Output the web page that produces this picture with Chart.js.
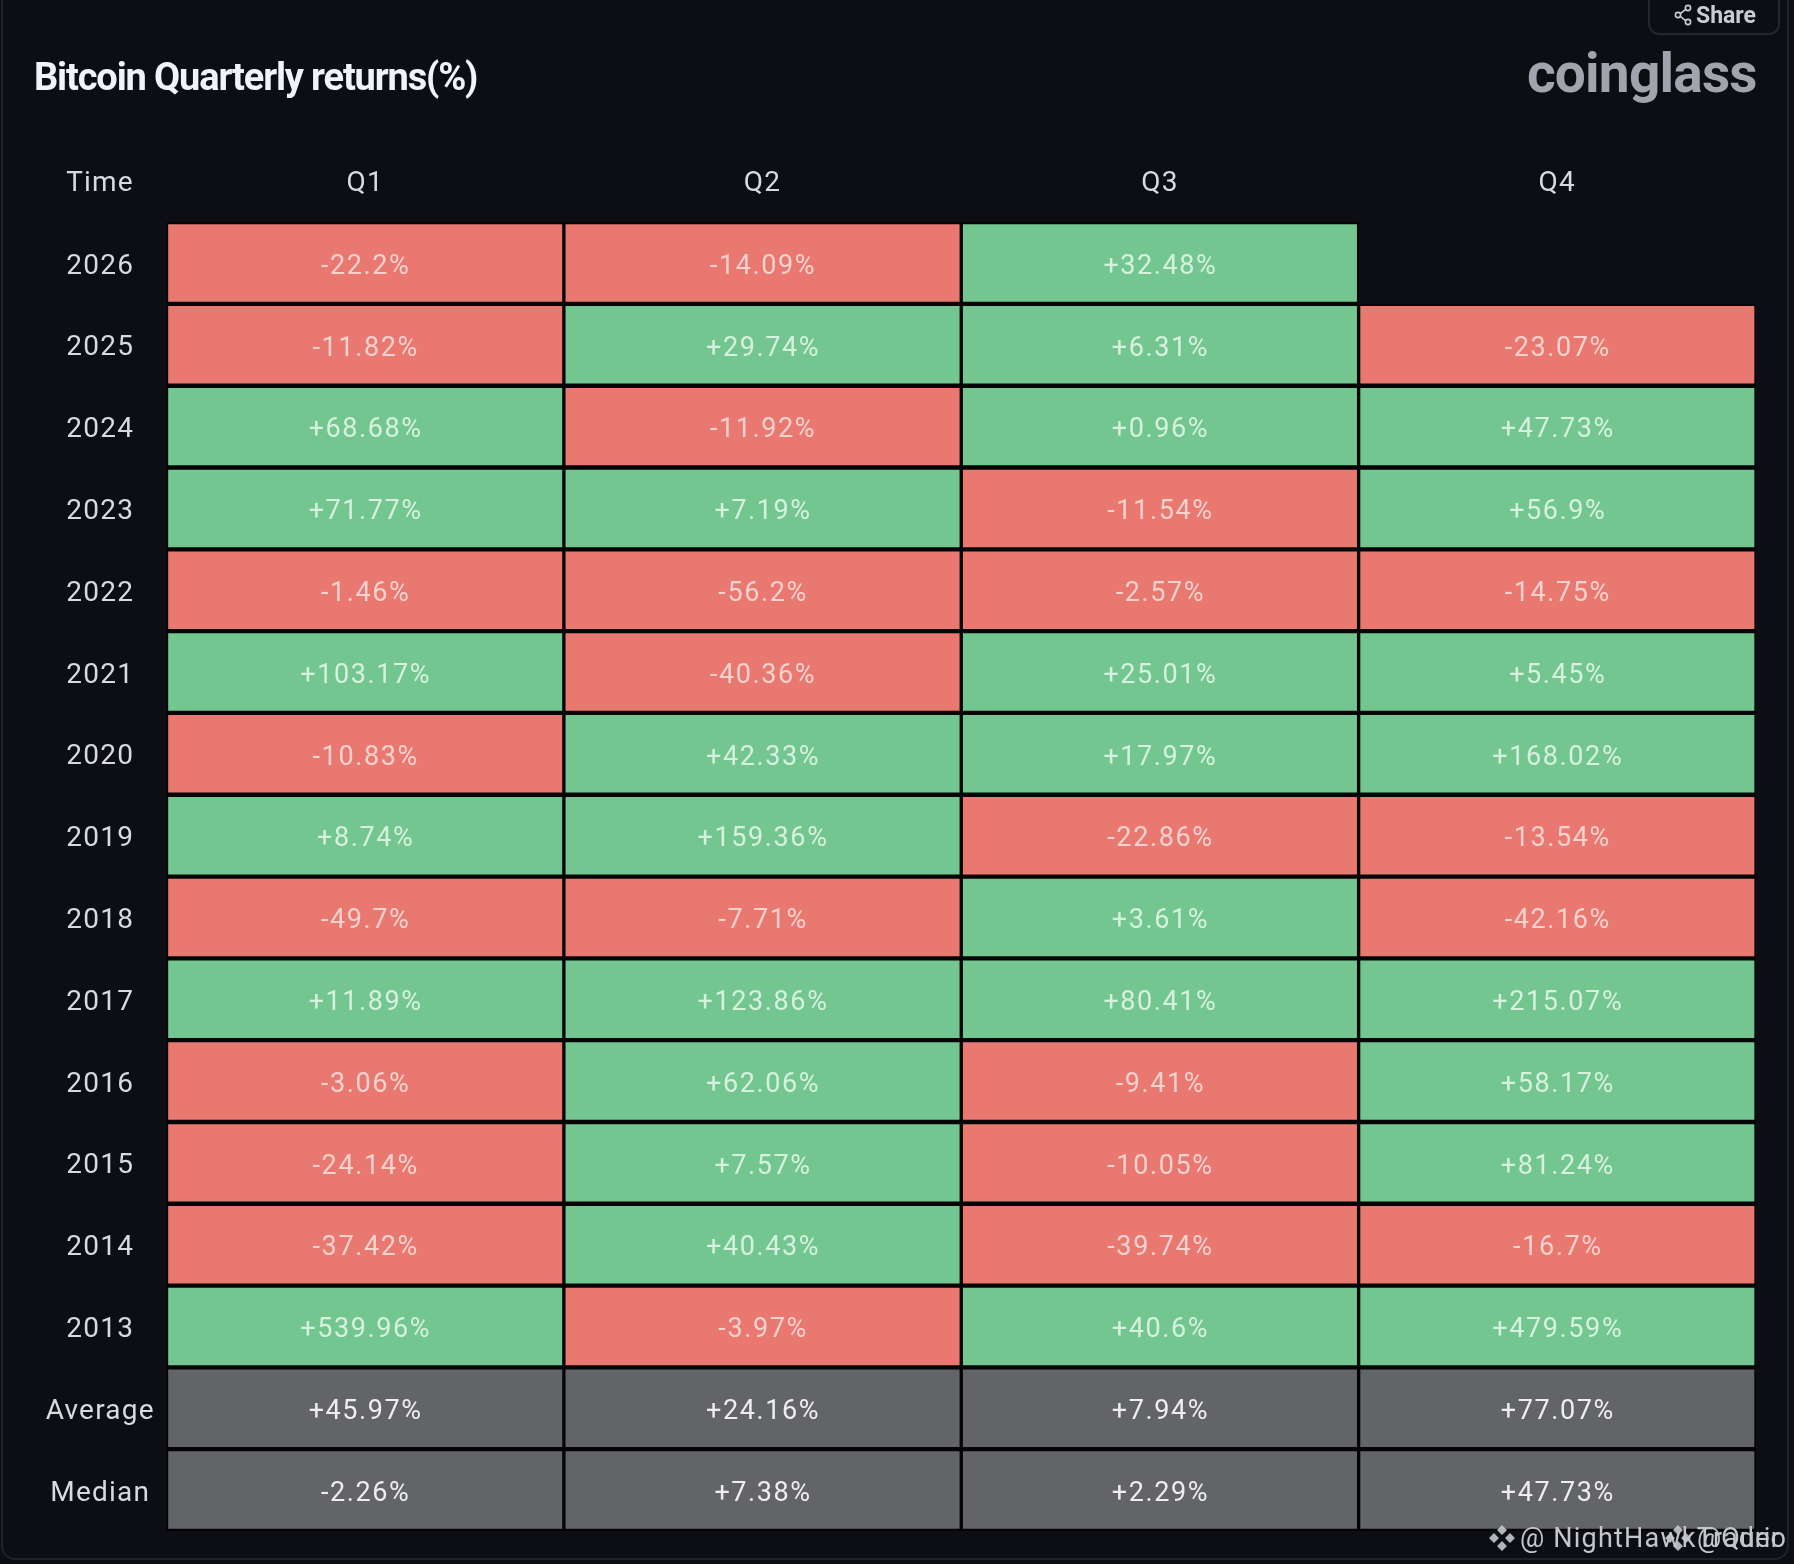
<!DOCTYPE html>
<html><head><meta charset="utf-8">
<style>
html,body{margin:0;padding:0;background:#0c0e14;width:1794px;height:1564px;overflow:hidden}
#wrap{position:relative;width:1794px;height:1564px}
canvas{position:absolute;left:0;top:0}
.frame{position:absolute;left:1px;top:-20px;width:1788px;height:1580px;border:2px solid #1f2228;border-radius:14px;box-sizing:border-box}
.t{position:absolute;white-space:nowrap;font-family:Roboto,sans-serif}
#title{left:34px;top:55px;font-size:38px;font-weight:700;color:#f2f3f8;letter-spacing:-1.15px;line-height:44px}
#logo{left:1527px;top:40px;font-size:55px;font-weight:700;color:#a1a4ac;letter-spacing:-0.8px;line-height:66px}
#share{left:1648px;top:-14px;width:132px;height:49px;border:2px solid #23262c;border-radius:11px;box-sizing:border-box}
#shareT{left:1696px;top:2px;font-size:23px;font-weight:700;color:#c9ccd3;line-height:28px}
.wm{position:absolute;font-family:Roboto,sans-serif;font-size:27px;color:#c4c6ca;white-space:nowrap;line-height:30px;letter-spacing:1.2px}
</style></head><body>
<div id="wrap">
<canvas id="c" width="1794" height="1564"></canvas>
<div class="frame"></div>
<div class="t" id="title">Bitcoin Quarterly returns(%)</div>
<div class="t" id="logo">coinglass</div>
<div id="share" style="position:absolute"></div>
<svg style="position:absolute;left:1674px;top:4px" width="20" height="22" viewBox="0 0 20 22" fill="none" stroke="#c9ccd3" stroke-width="1.6"><circle cx="14" cy="4" r="2.6"/><circle cx="4" cy="11" r="2.6"/><circle cx="14" cy="18" r="2.6"/><path d="M6.2 9.6 11.8 5.4M6.2 12.4l5.6 4.2"/></svg>
<div class="t" id="shareT">Share</div>
<svg style="position:absolute;left:1488px;top:1524px" width="28" height="28" viewBox="0 0 28 28" fill="#c4c6ca"><path d="M14 1l5 5-5 5-5-5zM6 9l5 5-5 5-5-5zM22 9l5 5-5 5-5-5zM14 17l5 5-5 5-5-5z" opacity=".9"/></svg>
<svg style="position:absolute;left:1664px;top:1524px" width="28" height="28" viewBox="0 0 28 28" fill="#c4c6ca"><path d="M14 1l5 5-5 5-5-5zM6 9l5 5-5 5-5-5zM22 9l5 5-5 5-5-5zM14 17l5 5-5 5-5-5z" opacity=".9"/></svg>
<div class="wm" style="left:1520px;top:1523px">@ NightHawkTrader</div>
<div class="wm" style="left:1697px;top:1523px;letter-spacing:0">@Qurio</div>
</div>
<script src="https://cdn.jsdelivr.net/npm/chart.js@4"></script>
<script>
const rowLabels = ['2026','2025','2024','2023','2022','2021','2020','2019','2018','2017','2016','2015','2014','2013','Average','Median'];
const quarters = ['Q1','Q2','Q3','Q4'];
const q1Values = [-22.2,-11.82,68.68,71.77,-1.46,103.17,-10.83,8.74,-49.7,11.89,-3.06,-24.14,-37.42,539.96,45.97,-2.26];
const q2Values = [-14.09,29.74,-11.92,7.19,-56.2,-40.36,42.33,159.36,-7.71,123.86,62.06,7.57,40.43,-3.97,24.16,7.38];
const q3Values = [32.48,6.31,0.96,-11.54,-2.57,25.01,17.97,-22.86,3.61,80.41,-9.41,-10.05,-39.74,40.6,7.94,2.29];
const q4Values = [null,-23.07,47.73,56.9,-14.75,5.45,168.02,-13.54,-42.16,215.07,58.17,81.24,-16.7,479.59,77.07,47.73];
const allValues = [q1Values,q2Values,q3Values,q4Values];
const statRows = ['Average','Median'];
const RED='#e97871', GREEN='#73c68f', GREY='#636467', GAP='#050507';
function fillFor(row,v){ if(v===null) return 'transparent'; if(statRows.includes(rowLabels[row])) return GREY; return v<0?RED:GREEN; }
function inkFor(row,v){ if(statRows.includes(rowLabels[row])) return '#eeeef0'; return v<0?'#f6d2ce':'#d6f1de'; }
const fmt = v => (v>0?'+':'')+v+'%';
const datasets = allValues.map((vals,q)=>({
  label:quarters[q],
  data:vals.map(v=>v===null?null:[q,q+1]),
  backgroundColor:vals.map((v,r)=>fillFor(r,v)),
  borderColor:vals.map(v=>v===null?'transparent':GAP),
  borderWidth:{left:2,right:2,top:2.5,bottom:2.5},
  borderSkipped:false,
  barPercentage:1,categoryPercentage:1,grouped:false
}));
let labelsNudged=false;
const cellText = {
  id:'cellText',
  beforeDraw(c){
    c.ctx.letterSpacing='1.2px';
    if(!labelsNudged){ c.scales.y.getLabelItems().forEach(it=>{ it.textOffset+=3.5; }); labelsNudged=true; }
  },
  afterDatasetsDraw(c){
    const ctx=c.ctx; ctx.save();
    ctx.font='27px Roboto'; ctx.textAlign='center'; ctx.textBaseline='middle'; ctx.letterSpacing='1.6px';
    allValues.forEach((vals,q)=>{
      const meta=c.getDatasetMeta(q);
      vals.forEach((v,r)=>{
        if(v===null) return;
        const p=meta.data[r].getCenterPoint();
        ctx.fillStyle=inkFor(r,v);
        ctx.fillText(fmt(v),p.x+0.5,p.y+4);
      });
    });
    ctx.font='28px Roboto'; ctx.letterSpacing='1.2px'; ctx.fillStyle='#d9dade';
    ctx.fillText('Time',100,183.5);
    ctx.restore();
  }
};
new Chart(document.getElementById('c'),{
  type:'bar',
  data:{labels:rowLabels,datasets},
  plugins:[cellText],
  options:{
    indexAxis:'y',responsive:false,animation:false,devicePixelRatio:1,
    layout:{padding:{left:34.5,top:140.1,right:38,bottom:33}},
    plugins:{legend:{display:false},title:{display:false},tooltip:{enabled:false}},
    scales:{
      x:{type:'linear',position:'top',min:0,max:4,
        grid:{display:false,drawTicks:false},border:{display:false},
        afterBuildTicks(s){ s.ticks=quarters.map((_,i)=>({value:i+0.5})); },
        afterFit(s){ s.height=82; },
        ticks:{autoSkip:false,maxRotation:0,padding:21,color:'#d9dade',font:{family:'Roboto',size:28},
          callback:v=>quarters[v-0.5]}
      },
      y:{type:'category',reverse:false,offset:true,
        grid:{display:false,drawTicks:false},border:{display:false},
        afterFit(s){ s.width=132; },
        ticks:{autoSkip:false,padding:16,crossAlign:'center',color:'#d9dade',font:{family:'Roboto',size:28}}
      }
    }
  }
});
</script>
</body></html>
